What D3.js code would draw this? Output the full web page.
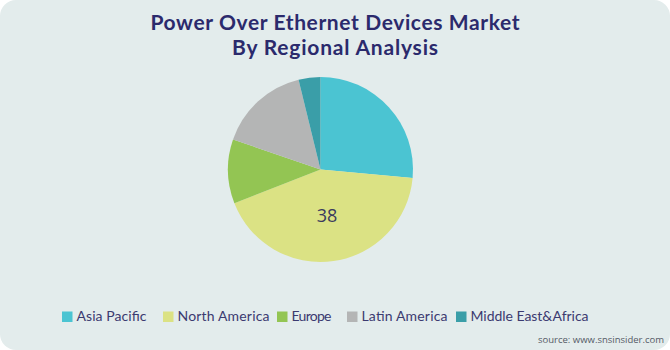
<!DOCTYPE html>
<html>
<head>
<meta charset="utf-8">
<script src="https://cdn.jsdelivr.net/npm/d3@7"></script>
<style>
  html, body { margin: 0; padding: 0; background: #ffffff; }
  svg { display: block; }
</style>
</head>
<body>
<svg id="chart" width="670" height="350"></svg>
<script>
const titleLines = ["Power Over Ethernet Devices Market", "By Regional Analysis"];
const regions = ["Asia Pacific", "North America", "Europe", "Latin America", "Middle East&Africa"];
const shares = [23.6, 38, 10, 14.2, 3.4];
const shownLabels = [false, true, false, false, false];
const colors = ["#4bc4d2", "#dbe284", "#93c553", "#b4b5b5", "#3a9ea8"];
const sourceText = "source: www.snsinsider.com";

const svg = d3.select("#chart");
const W = 670, H = 350;

svg.append("rect")
  .attr("x", 0).attr("y", 0).attr("width", W).attr("height", H)
  .attr("rx", 16).attr("ry", 16)
  .attr("fill", "#e3ecec");

// Title
const titleWidths = [369, 206];
const title = svg.append("g");
titleLines.forEach((t, i) => {
  title.append("text")
    .attr("x", 335).attr("y", 30 + i * 24.5)
    .attr("text-anchor", "middle")
    .attr("font-family", "Lato, 'Open Sans', sans-serif")
    .attr("font-weight", 700)
    .attr("font-size", 21)
    .attr("fill", "#2b2a6c")
    .attr("textLength", titleWidths[i])
    .attr("lengthAdjust", "spacing")
    .text(t);
});

// Pie
const cx = 320.5, cy = 169.5, R = 92.5;
const pie = d3.pie().sort(null).value(d => d.v);
const data = pie(regions.map((r, i) => ({ r, v: shares[i], c: colors[i], show: shownLabels[i] })));
const arc = d3.arc().innerRadius(0).outerRadius(R);
const g = svg.append("g").attr("transform", `translate(${cx},${cy})`);
g.selectAll("path").data(data).join("path")
  .attr("d", arc)
  .attr("fill", d => d.data.c);
g.selectAll("text").data(data.filter(d => d.data.show)).join("text")
  .attr("transform", d => `translate(${arc.centroid(d)})`)
  .attr("text-anchor", "middle")
  .attr("dy", "0.36em")
  .attr("font-family", "'Open Sans', sans-serif")
  .attr("font-size", 18)
  .attr("fill", "#3a3a5e")
  .text(d => d.data.v);

// Legend
const legendX = [62, 163, 277, 347, 456];
const legendW = [70, 92, 40, 86, 118];
const leg = svg.append("g");
regions.forEach((r, i) => {
  leg.append("rect")
    .attr("x", legendX[i]).attr("y", 311.5)
    .attr("width", 10.5).attr("height", 10.5)
    .attr("fill", colors[i]);
  leg.append("text")
    .attr("x", legendX[i] + 14.5).attr("y", 321)
    .attr("font-family", "Lato, 'Open Sans', sans-serif")
    .attr("font-size", 14)
    .attr("fill", "#3b3a70")
    .attr("textLength", legendW[i])
    .attr("lengthAdjust", "spacing")
    .text(r);
});

// Source
svg.append("text")
  .attr("x", 664).attr("y", 343)
  .attr("text-anchor", "end")
  .attr("font-family", "'Open Sans', sans-serif")
  .attr("font-size", 9.5)
  .attr("fill", "#555a66")
  .text(sourceText);
</script>
</body>
</html>
